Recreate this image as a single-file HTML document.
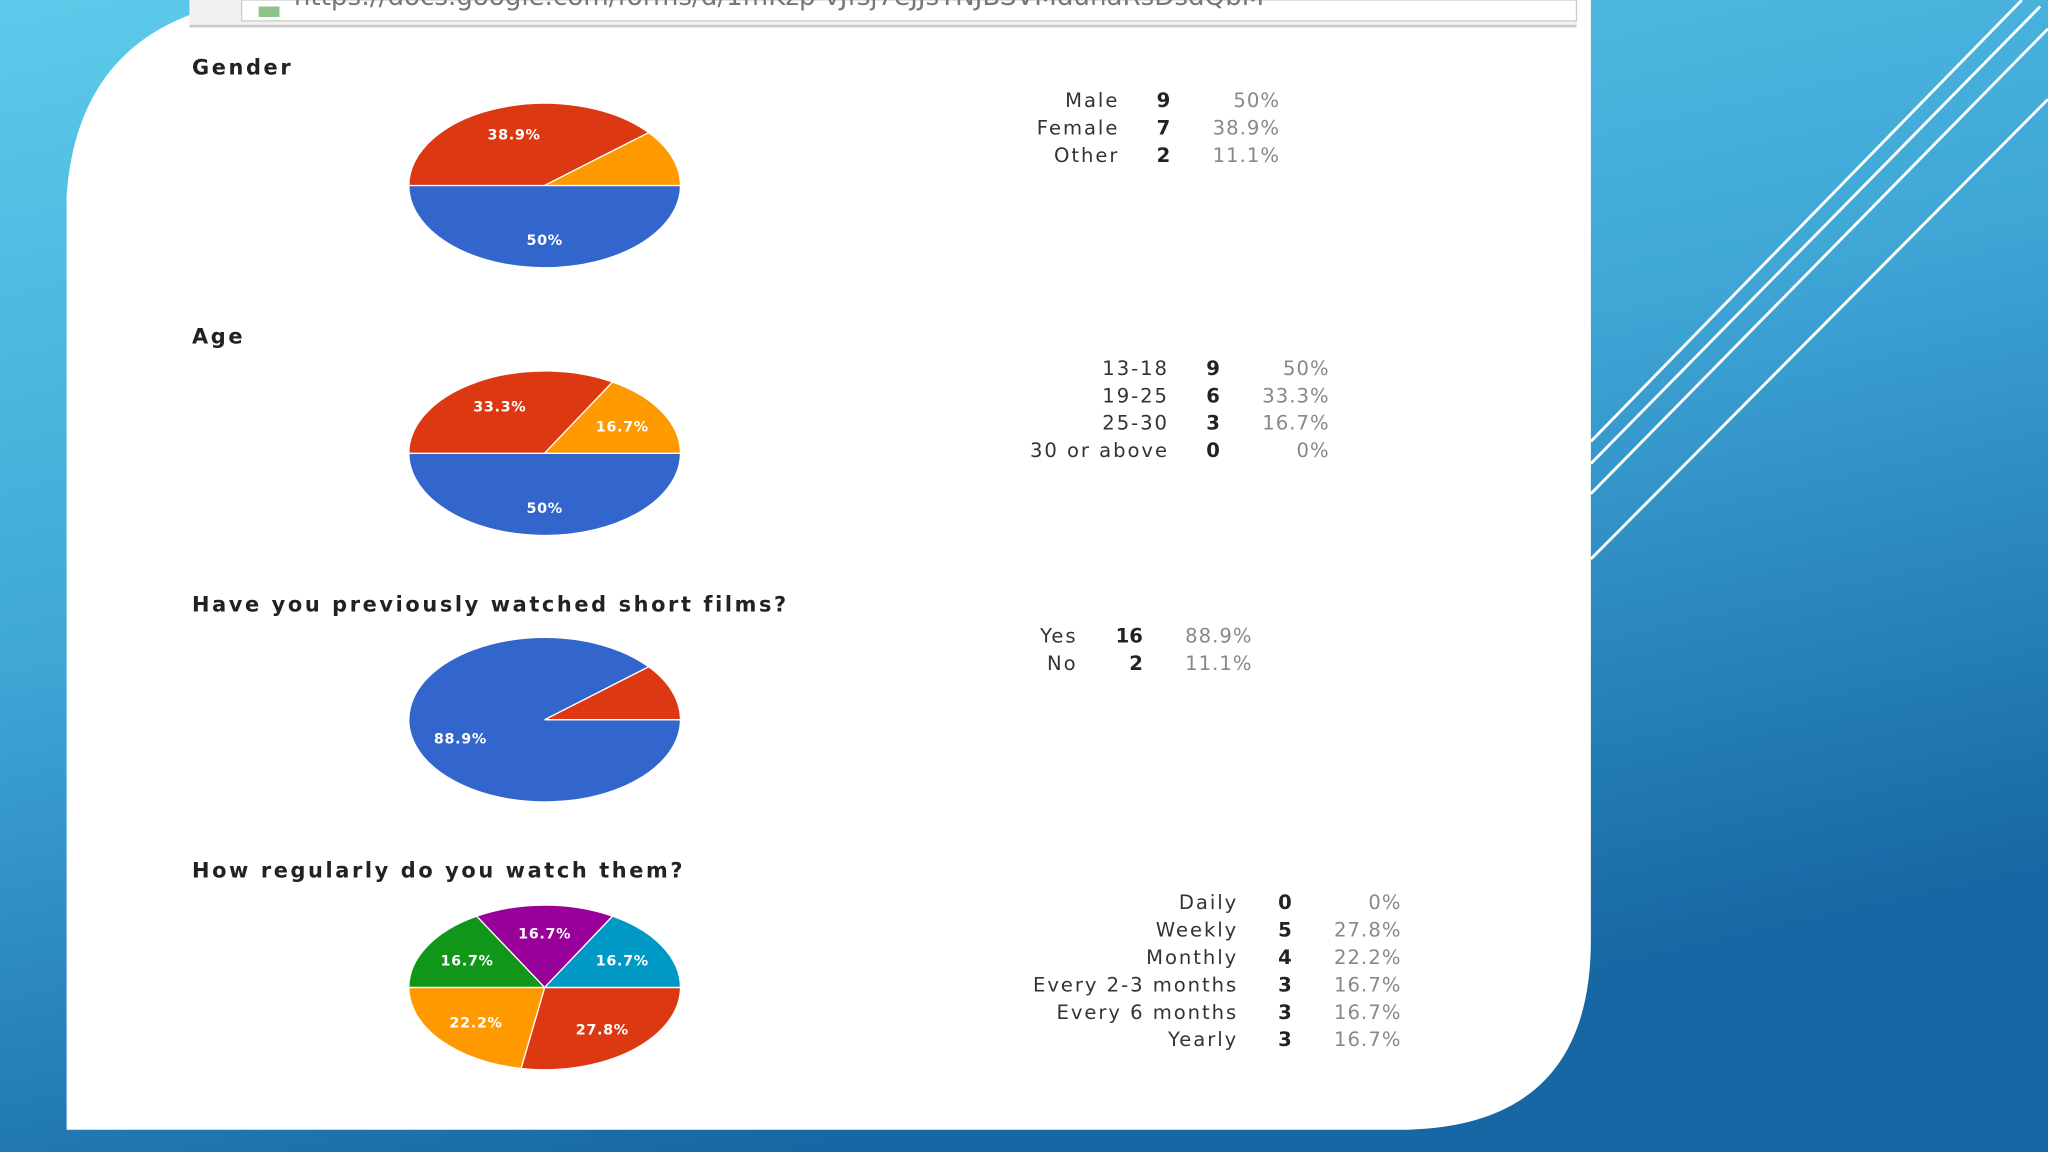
<!DOCTYPE html>
<html><head><meta charset="utf-8"><style>
html,body{margin:0;padding:0;width:2048px;height:1152px;overflow:hidden;}
svg{display:block;font-family:"DejaVu Sans","Liberation Sans",sans-serif;}
</style></head><body>
<svg id="s" width="2048" height="1152" viewBox="0 0 1568 882">
<defs>
<linearGradient id="bg" x1="0" y1="0" x2="0.4" y2="1">
<stop offset="0" stop-color="#5ccbea"/><stop offset="0.5" stop-color="#3fa6d6"/><stop offset="1" stop-color="#1667a3"/>
</linearGradient>
</defs>
<rect width="1568" height="882" fill="url(#bg)"/>
<g stroke="#fff" stroke-width="2.2" fill="none">
<line x1="1218" y1="338" x2="1548" y2="0"/>
<line x1="1218" y1="355" x2="1562" y2="5"/>
<line x1="1218" y1="378" x2="1568" y2="22"/>
<line x1="1218" y1="428" x2="1568" y2="76"/>
</g>
<path d="M190,0 L1218,0 L1218,720 Q1218,865 1070,865 L51,865 L51,150 Q60,20 190,0 Z" fill="#fff"/>
<rect x="145" y="0" width="1062" height="20" fill="#f1f1f1"/>
<rect x="185" y="0" width="1022" height="16" fill="#fff" stroke="#ccc"/>
<rect x="198" y="5" width="16" height="8" fill="#8bc48b"/>
<text x="225" y="4" font-size="20" fill="#777">https://docs.google.com/forms/d/1mKzp-vJfsj7eJJsTNJBSVMduhaRsDsdQbM</text>
<rect x="145" y="19" width="1062" height="2" fill="#c8c8c8"/>
<g id="charts"></g>
</svg>
<script>
const colors=["#3366cc","#dc3912","#ff9900","#109618","#990099","#0099c6"];
const genderCats=["Male","Female","Other"];
const genderCounts=[9,7,2];
const genderPcts=["50%","38.9%","11.1%"];
const ageCats=["13-18","19-25","25-30","30 or above"];
const ageCounts=[9,6,3,0];
const agePcts=["50%","33.3%","16.7%","0%"];
const filmCats=["Yes","No"];
const filmCounts=[16,2];
const filmPcts=["88.9%","11.1%"];
const freqCats=["Daily","Weekly","Monthly","Every 2-3 months","Every 6 months","Yearly"];
const freqCounts=[0,5,4,3,3,3];
const freqPcts=["0%","27.8%","22.2%","16.7%","16.7%","16.7%"];
const freqColors=["#3366cc","#dc3912","#ff9900","#109618","#990099","#0099c6"];

const NS="http://www.w3.org/2000/svg";
const root=document.getElementById('charts');
function mk(tag,attrs,parent){const e=document.createElementNS(NS,tag);for(const k in attrs)e.setAttribute(k,attrs[k]);(parent||root).appendChild(e);return e;}

const sections=[
 {title:"Gender",cats:genderCats,counts:genderCounts,pcts:genderPcts,cols:colors,ty:57,cy:142,tx:[857,896,980],ry0:82,name:"gender"},
 {title:"Age",cats:ageCats,counts:ageCounts,pcts:agePcts,cols:colors,ty:263,cy:347,tx:[895,934,1018],ry0:287,name:"age"},
 {title:"Have you previously watched short films?",cats:filmCats,counts:filmCounts,pcts:filmPcts,cols:colors,ty:468,cy:551,tx:[825,875,959],ry0:492,name:"films"},
 {title:"How regularly do you watch them?",cats:freqCats,counts:freqCounts,pcts:freqPcts,cols:freqColors,ty:672,cy:756,tx:[948,989,1073],ry0:696,name:"frequency"}
];
const cx=417,rx=104,ry=63;
function pt(cy,a,f){return [cx+rx*f*Math.sin(a), cy-ry*f*Math.cos(a)];}
sections.forEach(s=>{
 const g=mk('g',{});
 
 
 const t=mk('text',{x:147,y:s.ty,'font-size':16,'font-weight':'bold',fill:'#222','letter-spacing':'2'},g);
 t.textContent=s.title;
 
 
 const total=s.counts.reduce((a,b)=>a+b,0);
 let a=Math.PI/2;
 s.counts.forEach((c,i)=>{
  if(c<=0)return;
  const da=c/total*2*Math.PI;
  const p0=pt(s.cy,a,1),p1=pt(s.cy,a+da,1);
  const large=da>Math.PI?1:0;
  const p=mk('path',{d:`M${cx},${s.cy} L${p0[0]},${p0[1]} A${rx},${ry} 0 ${large} 1 ${p1[0]},${p1[1]} Z`,fill:s.cols[i%s.cols.length],stroke:'#fff','stroke-width':1},g);
  
  
  if(c/total>0.12){
   const m=pt(s.cy,a+da/2,0.66);
   const l=mk('text',{x:m[0],y:m[1]+4,'font-size':11,'font-weight':'bold',fill:'#fff','text-anchor':'middle','letter-spacing':'0.5'},g);
   l.textContent=s.pcts[i];
   
   
  }
  a+=da;
 });
 s.cats.forEach((cat,i)=>{
  const y=s.ry0+i*21;
  const a1=mk('text',{x:s.tx[0],y:y,'font-size':15,fill:'#333','text-anchor':'end','letter-spacing':'1.5'},g);
  a1.textContent=cat;
  
  
  const a2=mk('text',{x:s.tx[1],y:y,'font-size':15,'font-weight':'bold',fill:'#222','text-anchor':'end'},g);
  a2.textContent=s.counts[i];
  
  
  const a3=mk('text',{x:s.tx[2],y:y,'font-size':15,fill:'#888','text-anchor':'end','letter-spacing':'0.8'},g);
  a3.textContent=s.pcts[i];
  
  
 });
});
</script>
</body></html>
